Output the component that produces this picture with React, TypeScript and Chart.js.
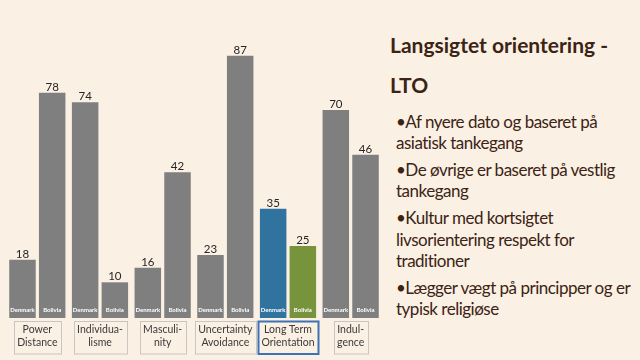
import React, { useEffect, useRef } from "react";
import { Chart, registerables } from "chart.js";

Chart.register(...registerables);

// ---- data ----
const categories: string[][] = [
  ["Power", "Distance"],
  ["Individua-", "lisme"],
  ["Masculi-", "nity"],
  ["Uncertainty", "Avoidance"],
  ["Long Term", "Orientation"],
  ["Indul-", "gence"],
];
const countries = ["Denmark", "Bolivia"];
const denmark = [18, 74, 16, 23, 35, 70];
const bolivia = [78, 10, 42, 87, 25, 46];
// each dimension is its own small chart in the source, with its own value range
const axisMin = [-2.95, -2.69, 2.29, 2.77, 5.7, -41.68];
const axisMax = [111.3, 110.38, 88.96, 104.89, 90.96, 129.06];
const highlightIndex = 4;

const GRAY = "#7f7f7f";
const BLUE = "#31739f";
const GREEN = "#77933c";
const BG = "#fbf0e4";
const TEXT = "#3b2414";

const overlayPlugin = {
  id: "overlay",
  afterDatasetsDraw(chart: any) {
    const ctx: CanvasRenderingContext2D = chart.ctx;
    ctx.save();
    chart.data.datasets.forEach((ds: any, i: number) => {
      const meta = chart.getDatasetMeta(i);
      meta.data.forEach((el: any, j: number) => {
        const v = ds.data[j];
        if (v === null || v === undefined) return;
        const p = el.getProps(["x", "y", "base"], true);
        ctx.fillStyle = "#262626";
        ctx.font = "11.5px Lato";
        ctx.textAlign = "center";
        ctx.textBaseline = "alphabetic";
        ctx.fillText(String(v), p.x, p.y - 2);
        ctx.fillStyle = "#ffffff";
        ctx.font = "bold 6px Lato";
        ctx.textBaseline = "middle";
        ctx.fillText(ds.label, p.x, p.base - 8);
      });
    });
    const xs = chart.scales.x;
    const top = chart.chartArea.bottom + 3;
    const h = 32.5;
    categories.forEach((lines, k) => {
      const cx = xs.getPixelForValue(k);
      ctx.font = "10.5px Lato";
      const w = Math.max(...lines.map((l) => ctx.measureText(l).width)) + 7;
      const hl = k === highlightIndex;
      ctx.lineWidth = hl ? 2 : 1;
      ctx.strokeStyle = hl ? "#3d72b4" : "#c9c6c2";
      ctx.strokeRect(Math.round(cx - w / 2) + 0.5, Math.round(top) + 0.5, Math.round(w), h);
      ctx.fillStyle = "#3a3a3a";
      ctx.textAlign = "center";
      ctx.textBaseline = "alphabetic";
      lines.forEach((l, li) => ctx.fillText(l, cx, top + 11.8 + li * 12.8));
    });
    ctx.restore();
  },
};

export default function App() {
  const ref = useRef<HTMLCanvasElement | null>(null);

  useEffect(() => {
    document.body.style.margin = "0";
    if (!ref.current) return;
    const datasets: any[] = [];
    categories.forEach((_, k) => {
      [denmark, bolivia].forEach((series, s) => {
        const color =
          k === highlightIndex ? (s === 0 ? BLUE : GREEN) : GRAY;
        datasets.push({
          label: countries[s],
          data: categories.map((__, j) => (j === k ? series[j] : null)),
          yAxisID: "y" + k,
          base: axisMin[k],
          backgroundColor: color,
          borderWidth: 0,
          categoryPercentage: 0.948,
          barPercentage: 0.892,
          skipNull: true,
        });
      });
    });
    const scales: any = {
      x: { type: "category", display: false, grid: { display: false } },
    };
    categories.forEach((_, k) => {
      scales["y" + k] = {
        type: "linear",
        display: false,
        min: axisMin[k],
        max: axisMax[k],
      };
    });
    const chart = new Chart(ref.current, {
      type: "bar",
      data: { labels: categories.map((c) => c.join(" ")), datasets },
      options: {
        responsive: false,
        animation: false,
        layout: { padding: { left: 6, right: 8, top: 0, bottom: 42 } },
        plugins: { legend: { display: false }, tooltip: { enabled: false } },
        scales,
      },
      plugins: [overlayPlugin],
    });
    return () => chart.destroy();
  }, []);

  const para: React.CSSProperties = {
    fontSize: 17,
    lineHeight: "21.3px",
    letterSpacing: "-0.5px",
    margin: 0,
    marginTop: 5.5,
  };

  return (
    <div
      style={{
        position: "fixed",
        left: 0,
        top: 0,
        width: 640,
        height: 360,
        background: BG,
        overflow: "hidden",
        fontFamily: "Lato, sans-serif",
        color: TEXT,
      }}
    >
      <canvas
        ref={ref}
        width={390}
        height={360}
        style={{ position: "absolute", left: 0, top: 0 }}
      />
      <div
        style={{
          position: "absolute",
          left: 390,
          top: 24.6,
          fontSize: 21,
          fontWeight: 700,
          lineHeight: "40px",
          whiteSpace: "nowrap",
        }}
      >
        Langsigtet orientering -<br />
        LTO
      </div>
      <div
        style={{
          position: "absolute",
          left: 396,
          top: 105.6,
          whiteSpace: "nowrap",
        }}
      >
        <p style={para}>
          •Af nyere dato og baseret på<br />
          asiatisk tankegang
        </p>
        <p style={para}>
          •De øvrige er baseret på vestlig<br />
          tankegang
        </p>
        <p style={para}>
          •Kultur med kortsigtet<br />
          livsorientering respekt for<br />
          traditioner
        </p>
        <p style={para}>
          •Lægger vægt på principper og er<br />
          typisk religiøse
        </p>
      </div>
    </div>
  );
}
